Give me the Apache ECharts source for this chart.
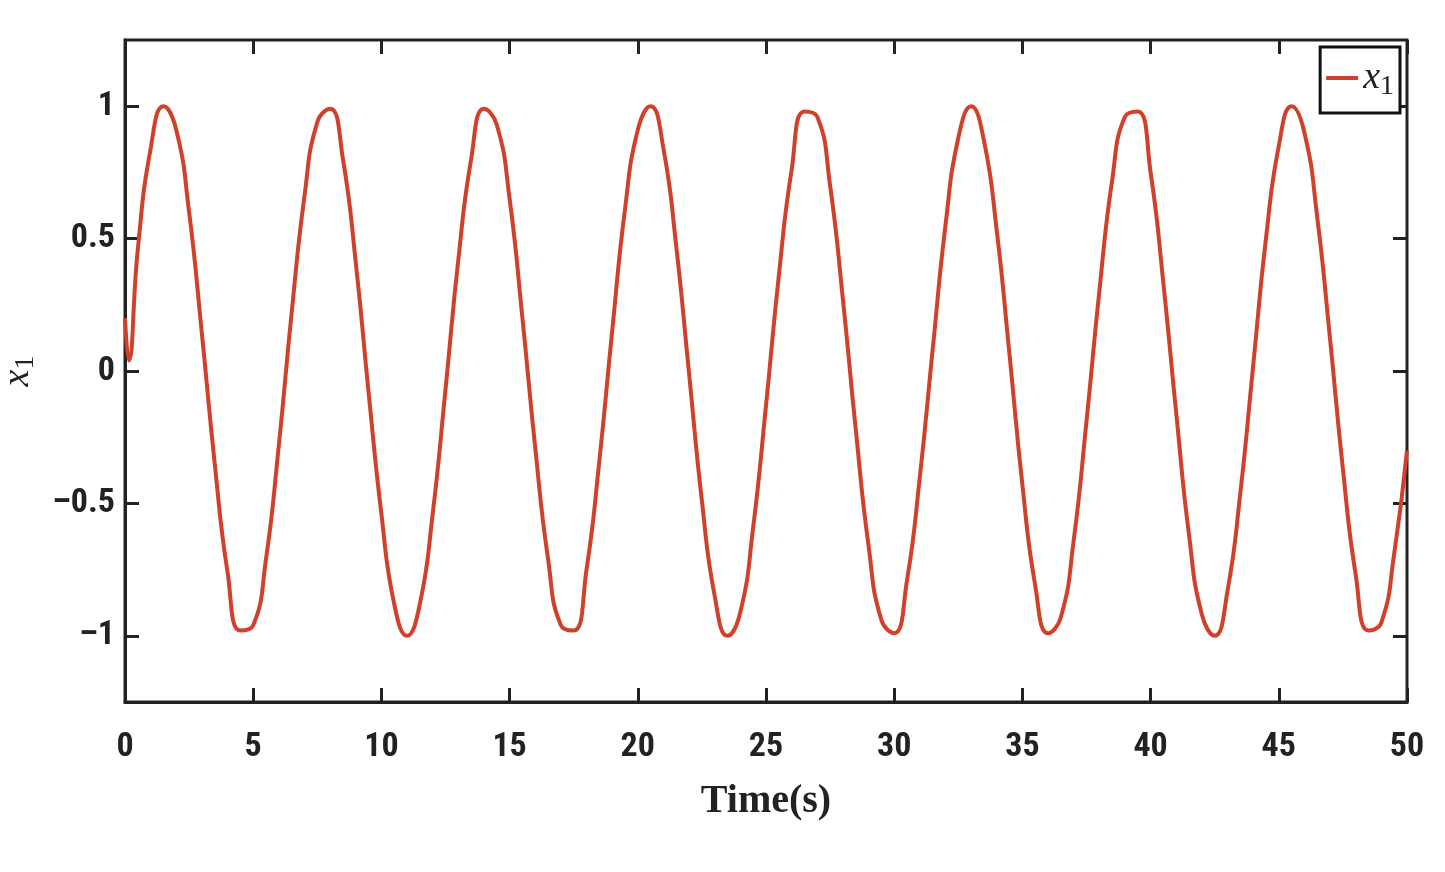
<!DOCTYPE html>
<html lang="en">
<head>
<meta charset="UTF-8">
<title>x1</title>
<script src="https://cdn.jsdelivr.net/npm/echarts@6/dist/echarts.min.js"></script>
<style>body{margin:0;background:#fff}#main{width:1445px;height:872px}</style>
</head>
<body>
<div id="main"></div>
<script>
// samples
var times = [0,0.15,0.5,1,1.5,2,2.5,3,3.5,4,4.5,5,5.5,6,6.5,7,7.5,8,8.5,9,9.5,10,10.5,11,11.5,12,12.5,13,13.5,14,14.5,15,15.5,16,16.5,17,17.5,18,18.5,19,19.5,20,20.5,21,21.5,22,22.5,23,23.5,24,24.5,25,25.5,26,26.5,27,27.5,28,28.5,29,29.5,30,30.5,31,31.5,32,32.5,33,33.5,34,34.5,35,35.5,36,36.5,37,37.5,38,38.5,39,39.5,40,40.5,41,41.5,42,42.5,43,43.5,44,44.5,45,45.5,46,46.5,47,47.5,48,48.5,49,49.5,50];
var x1 = [0.2,0.04,0.46,0.84,1.0,0.91,0.6,0.14,-0.35,-0.76,-0.98,-0.96,-0.71,-0.28,0.22,0.66,0.94,0.99,0.8,0.41,-0.08,-0.54,-0.88,-1.0,-0.88,-0.54,-0.07,0.42,0.8,0.99,0.93,0.65,0.2,-0.29,-0.71,-0.96,-0.98,-0.75,-0.34,0.15,0.61,0.91,1.0,0.84,0.47,-0.01,-0.49,-0.85,-1.0,-0.91,-0.59,-0.13,0.36,0.76,0.98,0.96,0.7,0.27,-0.22,-0.66,-0.94,-0.99,-0.79,-0.4,0.08,0.55,0.88,1.0,0.87,0.53,0.06,-0.43,-0.81,-0.99,-0.93,-0.64,-0.19,0.3,0.72,0.96,0.98,0.75,0.33,-0.16,-0.62,-0.92,-1.0,-0.83,-0.46,0.02,0.5,0.85,1.0,0.9,0.58,0.12,-0.37,-0.77,-0.98,-0.95,-0.69,-0.3];
var yTicks = [-1,-0.5,0,0.5,1];

var pts = [];
for (var i = 0; i < times.length; i++) { pts.push([times[i], x1[i]]); }

var tickFont = {fontFamily:'Liberation Sans Narrow, Roboto Condensed, Liberation Sans, sans-serif', fontWeight:'bold', fontSize:34, color:'#222'};
var myChart = echarts.init(document.getElementById('main'));
var option = {
  animation:false,
  grid:{left:125, right:38, top:40, bottom:170, show:true, borderColor:'#222', borderWidth:3, outerBoundsMode:'none', containLabel:false},
  legend:{
    right:45, top:47, itemWidth:32, itemHeight:4, itemGap:0, padding:[12,6,12,6],
    borderColor:'#111', borderWidth:3, backgroundColor:'#fff',
    icon:'rect',
    formatter:function(){ return '{a|x}{b|1}'; },
    textStyle:{rich:{a:{fontFamily:'Liberation Serif', fontStyle:'italic', fontSize:38, color:'#222'},
                     b:{fontFamily:'Liberation Serif', fontSize:28, color:'#222', padding:[18,0,0,0]}}}
  },
  xAxis:[{
    type:'value', min:0, max:50, interval:5,
    name:'Time(s)', nameLocation:'middle', nameGap:80,
    nameTextStyle:{fontFamily:'Liberation Serif', fontWeight:'bold', fontSize:40, color:'#222'},
    axisLine:{onZero:false, lineStyle:{color:'#222', width:3}},
    axisTick:{inside:true, length:14, lineStyle:{width:3, color:'#222'}},
    axisLabel:Object.assign({margin:28}, tickFont),
    splitLine:{show:false}
  },{
    type:'value', min:0, max:50, interval:5, position:'top',
    axisLine:{show:false, onZero:false}, axisLabel:{show:false},
    axisTick:{inside:true, length:14, lineStyle:{width:3, color:'#222'}}, splitLine:{show:false}
  }],
  yAxis:[{
    type:'value', min:-1.25, max:1.25,
    name:'{a|x}{b|1}', nameLocation:'middle', nameGap:85, nameRotate:90,
    nameTextStyle:{rich:{a:{fontFamily:'Liberation Serif', fontStyle:'italic', fontSize:38, color:'#222'},
                         b:{fontFamily:'Liberation Serif', fontSize:28, color:'#222', padding:[16,0,0,0]}}},
    axisLine:{onZero:false, lineStyle:{color:'#222', width:3}},
    axisTick:{inside:true, length:14, lineStyle:{width:3, color:'#222'}, customValues:yTicks},
    axisLabel:Object.assign({margin:10, customValues:yTicks, formatter:function(v){ return v < 0 ? '\u2013' + (-v) : String(v); }}, tickFont),
    splitLine:{show:false}
  },{
    type:'value', min:-1.25, max:1.25, position:'right',
    axisLine:{show:false, onZero:false}, axisLabel:{show:false},
    axisTick:{inside:true, length:14, lineStyle:{width:3, color:'#222'}, customValues:yTicks}, splitLine:{show:false}
  }],
  series:[{
    name:'x1', type:'line', data:pts, smooth:0.5, showSymbol:false,
    lineStyle:{color:'#d0402a', width:4}, itemStyle:{color:'#d0402a'}
  }]
};
myChart.setOption(option);
</script>
</body>
</html>
